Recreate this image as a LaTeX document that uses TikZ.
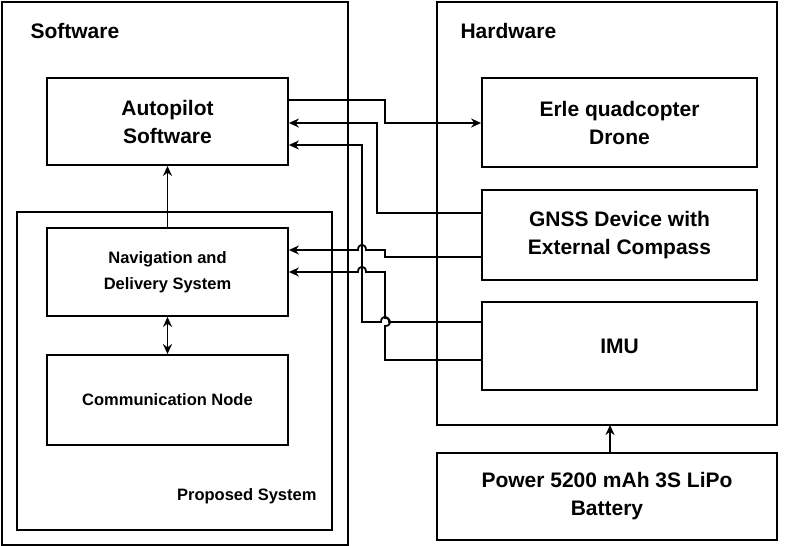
\documentclass[tikz,border=0pt]{standalone}
\usepackage{fontspec}
\setmainfont{Liberation Sans}
\usetikzlibrary{arrows.meta}
\begin{document}
\begin{tikzpicture}[x=1pt,y=-1pt,
  box/.style={draw,line width=1.8pt,inner sep=0pt,align=center,font=\bfseries\fontsize{21}{28}\selectfont},
  sbox/.style={box,font=\bfseries\fontsize{16.5}{26}\selectfont},
  ln/.style={line width=1.8pt},
  arr/.style={ln,-{Stealth[length=10pt,width=9pt]}},
  darr/.style={ln,{Stealth[length=10pt,width=9pt]}-{Stealth[length=10pt,width=9pt]}},
  lbl/.style={font=\bfseries\fontsize{21}{24}\selectfont,anchor=west}]
\useasboundingbox (0,0) rectangle (785,546);
\node[box,minimum width=346,minimum height=543] (sw) at (175,273.5) {};
\node[box,minimum width=340,minimum height=423] (hw) at (607,213.5) {};
\node[lbl] at (27,31) {Software};
\node[lbl] at (457,31) {Hardware};
\node[box,minimum width=315,minimum height=318] (ps) at (174.5,371) {};
\node[font=\bfseries\fontsize{16.5}{18}\selectfont,anchor=east] at (320,496) {Proposed System};
\node[box,minimum width=241,minimum height=87] (ap) at (167.5,121.5) {Autopilot\\Software};
\node[sbox,minimum width=241,minimum height=88] (nav) at (167.5,272) {Navigation and\\Delivery System};
\node[sbox,minimum width=241,minimum height=90] (com) at (167.5,400) {Communication Node};
\node[box,minimum width=275,minimum height=89] (erle) at (619.5,122.5) {Erle quadcopter\\Drone};
\node[box,minimum width=275,minimum height=90] (gnss) at (619.5,235) {GNSS Device with\\External Compass};
\node[box,minimum width=275,minimum height=88] (imu) at (619.5,346) {IMU};
\node[box,minimum width=340,minimum height=87] (pw) at (607,496.5) {Power 5200 mAh 3S LiPo\\Battery};
\draw[arr] (nav.north) -- (ap.south);
\draw[darr] (nav.south) -- (com.north);
\draw[arr] (pw.north -| 610,0) -- (610,425);
% autopilot -> erle
\draw[arr] (ap.east |- 0,100) -- (385,100) -- (385,123) -- (erle.west |- 0,123);
% gnss -> autopilot
\draw[arr] (gnss.west |- 0,213) -- (377,213) -- (377,123) -- (ap.east |- 0,123);
% imu -> autopilot
\draw[arr] (imu.west |- 0,322) -- (389,322) .. controls (389,315) and (381,315) .. (381,322) -- (362,322) -- (362,145) -- (ap.east |- 0,145);
% gnss -> nav
\draw[arr] (gnss.west |- 0,257) -- (385,257) -- (385,250) -- (366,250) .. controls (366,243) and (358,243) .. (358,250) -- (nav.east |- 0,250);
% imu -> nav
\draw[arr] (imu.west |- 0,360) -- (385,360) -- (385,326) .. controls (392,326) and (392,318) .. (385,318) -- (385,272) -- (366,272) .. controls (366,265) and (358,265) .. (358,272) -- (nav.east |- 0,272);
\end{tikzpicture}
\end{document}
